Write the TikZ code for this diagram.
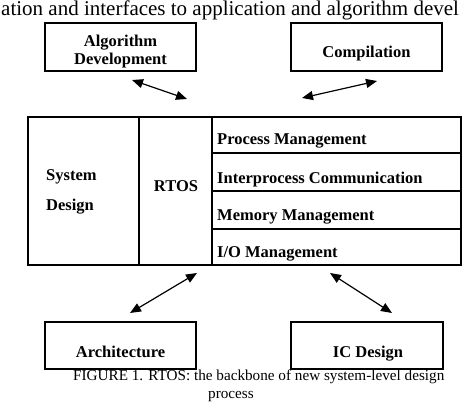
\documentclass[tikz,border=0pt]{standalone}
\usepackage{fontspec}
\setmainfont{Liberation Serif}
\usetikzlibrary{arrows.meta}
\tikzset{
  boxnode/.style={draw, line width=1.5pt, minimum width=151pt, minimum height=48pt, inner sep=0pt},
  cell/.style={draw, line width=1.4pt, inner sep=0pt},
  btxt/.style={font=\fontsize{16.5}{19}\selectfont\bfseries, inner sep=0pt},
  rtxt/.style={font=\fontsize{15.2}{18}\selectfont, inner sep=0pt},
  toptxt/.style={font=\fontsize{21}{24}\selectfont, inner sep=0pt},
  link/.style={line width=1.2pt, {Triangle[length=11pt,width=9pt]}-{Triangle[length=11pt,width=9pt]}}
}
\begin{document}
\begin{tikzpicture}[x=1pt,y=-1pt]
\useasboundingbox (0,0) rectangle (474,409);
\node[toptxt, anchor=base west] (top) at (1,16) {ation and interfaces to application and algorithm devel};
% top boxes
\node[boxnode] (alg) at (120.5,47) {};
\node[btxt, anchor=base] (algt1) at (120.5,47) {Algorithm};
\node[btxt, anchor=base] (algt2) at (120.5,65) {Development};
\node[boxnode] (comp) at (366.5,47) {};
\node[btxt, anchor=base] (compt) at (366.5,58) {Compilation};
% main block
\node[cell, minimum width=111pt, minimum height=148pt] (sys) at (83.5,191) {};
\node[cell, minimum width=73pt, minimum height=148pt] (rtos) at (175.5,191) {};
\node[cell, minimum width=249pt, minimum height=36pt] (pm) at (336.5,135) {};
\node[cell, minimum width=249pt, minimum height=38pt] (ipc) at (336.5,172) {};
\node[cell, minimum width=249pt, minimum height=38pt] (mm) at (336.5,210) {};
\node[cell, minimum width=249pt, minimum height=36pt] (io) at (336.5,247) {};
\node[btxt, anchor=base west] (syst1) at (46,180) {System};
\node[btxt, anchor=base west] (syst2) at (46,210) {Design};
\node[btxt, anchor=base] (rtost) at (176,192) {RTOS};
\node[btxt, anchor=base west] (pmt) at (217,145) {Process Management};
\node[btxt, anchor=base west] (ipct) at (217,183) {Interprocess Communication};
\node[btxt, anchor=base west] (mmt) at (217,220) {Memory Management};
\node[btxt, anchor=base west] (iot) at (217,257) {I/O Management};
% bottom boxes
\node[boxnode, minimum height=47pt] (arch) at (120.5,345.5) {};
\node[btxt, anchor=base] (archt) at (120.5,357) {Architecture};
\node[boxnode, minimum width=152pt, minimum height=47pt] (ic) at (367,345.5) {};
\node[btxt, anchor=base] (ict) at (368,357) {IC Design};
% arrows
\coordinate (a1s) at (132,80);
\coordinate (a1e) at (187,99);
\coordinate (a2s) at (302,98);
\coordinate (a2e) at (377,81);
\coordinate (a3s) at (197,273);
\coordinate (a3e) at (130,313);
\coordinate (a4s) at (330,273);
\coordinate (a4e) at (392,313);
\draw[link] (a1s) -- (a1e);
\draw[link] (a2s) -- (a2e);
\draw[link] (a3s) -- (a3e);
\draw[link] (a4s) -- (a4e);
% caption
\node[rtxt, anchor=base west] (cap1) at (73,380) {FIGURE 1. RTOS: the backbone of new system-level design};
\node[rtxt, anchor=base west] (cap2) at (208,398) {process};
\end{tikzpicture}
\end{document}
